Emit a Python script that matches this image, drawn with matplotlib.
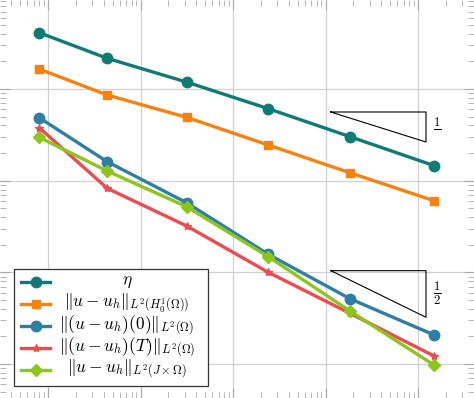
import numpy as np
import matplotlib.pyplot as plt
from matplotlib.lines import Line2D
from matplotlib.patches import Rectangle

plt.rcParams['mathtext.fontset'] = 'cm'
plt.rcParams['font.family'] = ['DejaVu Serif']

# degrees of freedom
dofs = [80.5, 437, 3155, 24100, 184000, 1.49e6]

# error quantities
eta = [4.11, 2.16, 1.19, 0.610, 0.302, 0.146]
err_h1 = [1.65, 0.860, 0.491, 0.245, 0.122, 0.0605]
err_0 = [0.486, 0.161, 0.0575, 0.01574, 0.00516, 0.00208]
err_T = [0.378, 0.0826, 0.0321, 0.01002, 0.00358, 0.001225]
err_l2 = [0.297, 0.1276, 0.0520, 0.01483, 0.00379, 0.000977]

labels = [r'$\eta$',
          r'$\|u-u_h\|_{L^2(H^1_0(\Omega))}$',
          r'$\|(u-u_h)(0)\|_{L^2(\Omega)}$',
          r'$\|(u-u_h)(T)\|_{L^2(\Omega)}$',
          r'$\|u-u_h\|_{L^2(J\times\Omega)}$']

# slope triangles: x range, y of top edge, slope, label
tri_x = [1.14e5, 1.22e6]
tri_top = [0.5613, 0.01045]
tri_slope = [0.318, 0.494]
tri_label = [r'$\frac{1}{\ }$', r'$\frac{1}{2}$']

series = [eta, err_h1, err_0, err_T, err_l2]
colors = ['#0f7b78', '#f7820f', '#2d7fa6', '#ef4a50', '#8cc51c']
markers = ['o', 's', 'o', '*', 'D']
msizes = [7.5, 6, 7.5, 6, 6]

fig = plt.figure(figsize=(4.74, 3.98), dpi=100)
ax = fig.add_axes([0, 0, 1, 1])
ax.set_xscale('log')
ax.set_yscale('log')
ax.set_xlim(10 ** (2 - 48 / 92.5), 10 ** (2 + 426 / 92.5))
ax.set_ylim(10 ** (-(398 - 89) / 91.7), 10 ** (89 / 91.7))

for s, c, m, ms in zip(series, colors, markers, msizes):
    ax.plot(dofs, s, color=c, marker=m, markersize=ms, linewidth=2.4,
            markeredgecolor=c, zorder=3)

for top, k, lab in zip(tri_top, tri_slope, tri_label):
    x0, x1 = tri_x
    bot = top * (x1 / x0) ** (-k)
    ax.plot([x0, x1, x1, x0], [top, top, bot, top], color='black',
            linewidth=0.8, zorder=2)
    ax.text(x1 * 1.32, np.sqrt(top * bot) * 1.03, lab, fontsize=13,
            ha='center', va='center')

ax.grid(True, which='major', color='#d0d0d0', linewidth=0.9)
ax.set_axisbelow(True)
for sp in ax.spines.values():
    sp.set_visible(False)
ax.tick_params(which='both', direction='in', colors='#aaaaaa',
               top=True, right=True, labelleft=False, labelbottom=False)
ax.tick_params(which='major', length=7, width=0.8)
ax.tick_params(which='minor', length=4, width=0.6)

# legend drawn by hand so entries can be centred
ax.add_patch(Rectangle((14.3 / 474, 1 - 385.7 / 398), 193.7 / 474, 116.4 / 398,
                       transform=ax.transAxes, facecolor='white',
                       edgecolor='#333333', linewidth=0.9, zorder=5))
row_y = [281.5, 303.5, 325.5, 347.5, 369.5]
for yy, c, m, ms, lab in zip(row_y, colors, markers, msizes, labels):
    yf = 1 - yy / 398
    ax.add_line(Line2D([21 / 474, 35.5 / 474, 50 / 474], [yf, yf, yf],
                       transform=ax.transAxes, color=c, marker=m,
                       markersize=ms, markevery=[1], linewidth=2.4, zorder=6))
    ax.text(127 / 474, yf, lab, transform=ax.transAxes, fontsize=12.5,
            ha='center', va='center', zorder=7)

fig.savefig('out.png', dpi=100)
